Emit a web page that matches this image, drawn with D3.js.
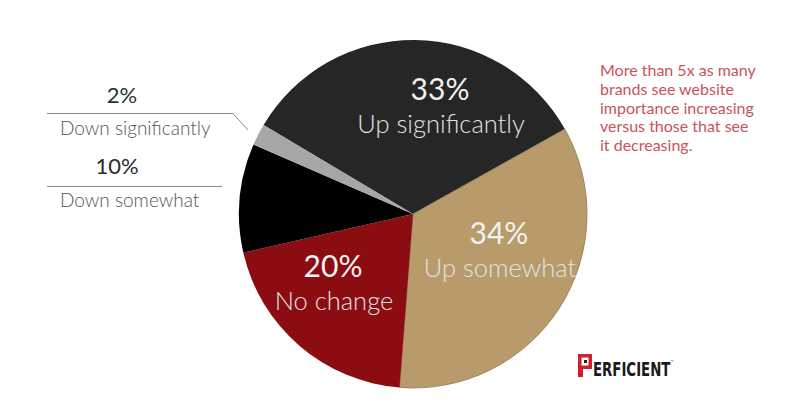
<!DOCTYPE html>
<html>
<head>
<meta charset="utf-8">
<script src="https://cdn.jsdelivr.net/npm/d3@7"></script>
<style>
  body { margin: 0; background: #fff; }
  svg { display: block; }
</style>
</head>
<body>
<svg id="svg" width="800" height="417"></svg>
<script>
let width = 800;
let height = 417;

// chart data
let categories = ["Up significantly", "Up somewhat", "No change", "Down somewhat", "Down significantly"];
let values = [33, 34, 20, 10, 2];
let sliceColors = ["#262626", "#b99b6b", "#8c0d11", "#000000", "#a6a6a6"];
let noteLines = [
    "More than 5x as many",
    "brands see website",
    "importance increasing",
    "versus those that see",
    "it decreasing."
];

let cx = 413, cy = 214, radius = 174;

let svg = d3.select("#svg");

let pie = d3.pie()
    .sort(null)
    .startAngle(-59.2 * Math.PI / 180)
    .endAngle((360 - 59.2) * Math.PI / 180);

let arc = d3.arc().innerRadius(0).outerRadius(radius);

let slices = pie(values);

let g = svg.append("g").attr("transform", `translate(${cx},${cy})`);

g.selectAll("path")
    .data(slices)
    .enter()
    .append("path")
    .attr("d", arc)
    .style("fill", (d, i) => sliceColors[i])
    .style("stroke", (d, i) => i == 1 ? "#8f774f" : "none")
    .style("stroke-width", 0.8);

// labels inside the slices (offsets from centre)
let inside = {
    "Up significantly": [27, -114],
    "Up somewhat": [86, 30],
    "No change": [-80, 63]
};

slices.forEach((d, i) => {
    let pos = inside[categories[i]];
    if (!pos) return;
    g.append("text")
        .attr("x", pos[0])
        .attr("y", pos[1])
        .attr("text-anchor", "middle")
        .style("font-family", "Lato")
        .style("font-size", "30px")
        .style("fill", "#f2f2f2")
        .text(d.data + "%");
    g.append("text")
        .attr("x", pos[0] + 1)
        .attr("y", pos[1] + 33)
        .attr("text-anchor", "middle")
        .style("font-family", "Lato")
        .style("font-weight", 300)
        .style("font-size", "25.5px")
        .style("fill", "#e2e2e2")
        .text(categories[i]);
});

// callouts on the left for the small slices
let outside = {
    "Down significantly": { pct: [122, 103], name: [60, 135], line: "M47,113.5H233L248,130" },
    "Down somewhat": { pct: [117, 174], name: [60, 207], line: "M47,186.5H222" }
};

slices.forEach((d, i) => {
    let o = outside[categories[i]];
    if (!o) return;
    svg.append("path")
        .attr("d", o.line)
        .style("fill", "none")
        .style("stroke", "#8a8a8a")
        .style("stroke-width", 1);
    svg.append("text")
        .attr("x", o.pct[0])
        .attr("y", o.pct[1])
        .attr("text-anchor", "middle")
        .style("font-family", "Lato")
        .style("font-size", "22px")
        .style("fill", i == 4 ? "#1f3530" : "#2b2b2b")
        .text(d.data + "%");
    svg.append("text")
        .attr("x", o.name[0])
        .attr("y", o.name[1])
        .style("font-family", "Lato")
        .style("font-weight", 300)
        .style("font-size", "19px")
        .style("fill", "#555555")
        .text(categories[i]);
});

// note on the right
svg.append("g")
    .selectAll("text")
    .data(noteLines)
    .enter()
    .append("text")
    .attr("x", 600)
    .attr("y", (d, i) => 76 + i * 18.8)
    .style("font-family", "Lato")
    .style("font-size", "16px")
    .style("fill", "#c9535e")
    .text(d => d);

// logo
let logo = svg.append("g");
logo.append("path")
    .attr("d", "M578,377V354H592V369H583V377Z M581.5,357.5V365.5H588.5V357.5Z")
    .style("fill", "#d0202a")
    .style("fill-rule", "evenodd");
logo.append("rect")
    .attr("x", 584).attr("y", 360).attr("width", 3).attr("height", 3)
    .style("fill", "#222");
let logoText = logo.append("text")
    .attr("transform", "translate(593,376) scale(0.74,1)")
    .style("font-family", "DejaVu Sans Condensed")
    .style("font-weight", "bold")
    .style("font-size", "20px")
    .style("fill", "#1a1a1a");
logoText.append("tspan").text("ERFICIENT");
logoText.append("tspan")
    .attr("dy", -12)
    .style("font-size", "5px")
    .style("font-weight", "normal")
    .text("™");
</script>
</body>
</html>
